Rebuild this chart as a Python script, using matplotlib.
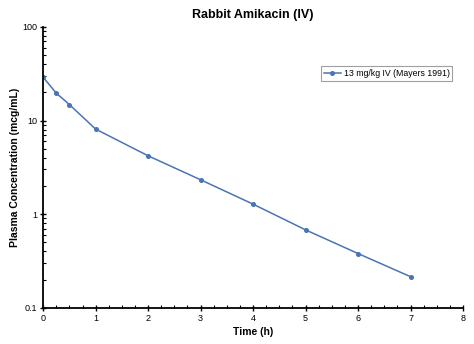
import matplotlib
matplotlib.use("Agg")
import matplotlib.pyplot as plt
from matplotlib.ticker import MultipleLocator, LogLocator, FixedLocator

# Amikacin plasma levels in rabbits after a single IV dose
time_h = [0, 0.25, 0.5, 1, 2, 3, 4, 5, 6, 7]
conc = [29.0, 19.6, 14.8, 8.1, 4.2, 2.33, 1.28, 0.68, 0.38, 0.215]
series_label = "13 mg/kg IV (Mayers 1991)"

plt.rcParams['font.family'] = ['Liberation Sans', 'DejaVu Sans']

fig = plt.figure(figsize=(4.74, 3.44), dpi=100)
ax = fig.add_axes([0.091, 0.105, 0.886, 0.817])

ax.plot(time_h, conc, color='#4a74b4', lw=1.1, marker='o', ms=2.6,
        label=series_label)

ax.set_yscale('log')
ax.set_xlim(0, 8)
ax.set_ylim(0.1, 100)
ax.xaxis.set_major_locator(MultipleLocator(1))
ax.xaxis.set_minor_locator(MultipleLocator(0.25))
ax.yaxis.set_major_locator(FixedLocator([0.1, 1, 10, 100]))
ax.yaxis.set_minor_locator(LogLocator(base=10, subs=range(2, 10)))
ax.yaxis.set_minor_formatter(plt.NullFormatter())
ax.set_yticklabels(['0.1', '1', '10', '100'])

ax.tick_params(which='major', direction='inout', length=5, width=1,
               labelsize=6.5, pad=2)
ax.tick_params(which='minor', direction='in', length=2.5, width=0.8)

for side in ('top', 'right'):
    ax.spines[side].set_visible(False)
for side in ('left', 'bottom'):
    ax.spines[side].set_linewidth(1.3)

ax.set_title("Rabbit Amikacin (IV)", fontsize=9, fontweight='bold', pad=6)
ax.set_xlabel("Time (h)", fontsize=7.5, fontweight='bold', labelpad=3)
ax.set_ylabel("Plasma Concentration (mcg/mL)", fontsize=7.5,
              fontweight='bold', labelpad=1)

leg = ax.legend(loc='upper right', bbox_to_anchor=(0.985, 0.875), fontsize=6.3,
                frameon=True, fancybox=False, handlelength=2, borderpad=0.3,
                handletextpad=0.3)
leg.get_frame().set_edgecolor('#888888')
leg.get_frame().set_linewidth(0.8)

fig.savefig("out.png", dpi=100)
